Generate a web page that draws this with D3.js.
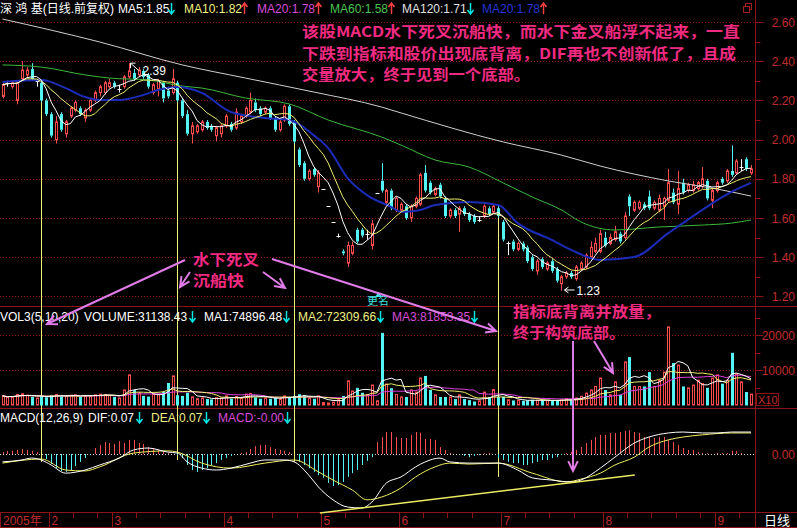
<!DOCTYPE html>
<html>
<head>
<meta charset="utf-8">
<script src="https://cdn.jsdelivr.net/npm/d3@7"></script>
<style>
body { margin: 0; background: #000; }
svg { display: block; }
text { font-family: "Liberation Sans", "Noto Sans CJK SC", sans-serif; }
</style>
</head>
<body>
<svg id="chart" width="797" height="528"></svg>
<script>
/* ---- data ---- */
// daily candles [open, high, low, close], mid Jan 2005 .. early Sep 2005
var ohlc = [
  [2.22,2.29,2.21,2.28],[2.29,2.30,2.27,2.29],[2.27,2.30,2.26,2.29],[2.20,2.30,2.18,2.29],[2.31,2.40,2.30,2.355],
  [2.33,2.37,2.32,2.355],[2.36,2.39,2.30,2.31],[2.30,2.31,2.27,2.30],[2.29,2.30,2.19,2.20],[2.20,2.21,2.12,2.13],
  [2.13,2.14,2.01,2.02],[2.00,2.12,1.98,2.09],[2.13,2.14,2.04,2.05],[2.03,2.10,2.01,2.09],[2.12,2.17,2.11,2.16],
  [2.15,2.20,2.14,2.19],[2.16,2.17,2.12,2.13],[2.11,2.16,2.09,2.15],[2.15,2.21,2.14,2.20],[2.20,2.25,2.19,2.24],
  [2.24,2.28,2.22,2.27],[2.24,2.30,2.23,2.29],[2.27,2.31,2.26,2.29],[2.29,2.30,2.26,2.27],[2.26,2.28,2.24,2.26],
  [2.27,2.33,2.26,2.32],[2.32,2.39,2.31,2.35],[2.34,2.36,2.30,2.31],[2.33,2.37,2.32,2.355],[2.35,2.36,2.31,2.32],
  [2.33,2.34,2.26,2.27],[2.24,2.29,2.23,2.28],[2.26,2.31,2.22,2.30],[2.29,2.30,2.19,2.21],[2.25,2.27,2.21,2.22],
  [2.24,2.36,2.23,2.31],[2.29,2.30,2.19,2.20],[2.20,2.21,2.11,2.12],[2.13,2.15,2.02,2.03],[2.03,2.09,1.98,2.07],
  [2.04,2.08,2.03,2.07],[2.05,2.10,2.04,2.09],[2.09,2.10,2.05,2.06],[2.07,2.08,2.04,2.05],[2.02,2.07,1.99,2.06],
  [2.03,2.08,2.01,2.07],[2.07,2.13,2.06,2.12],[2.08,2.09,2.04,2.05],[2.06,2.16,2.05,2.14],[2.09,2.13,2.08,2.12],
  [2.12,2.17,2.11,2.16],[2.14,2.24,2.13,2.20],[2.19,2.21,2.14,2.15],[2.16,2.17,2.12,2.13],[2.14,2.17,2.13,2.16],
  [2.16,2.17,2.10,2.11],[2.11,2.12,2.04,2.05],[2.05,2.10,2.04,2.09],[2.10,2.18,2.09,2.17],[2.17,2.18,2.07,2.08],
  [2.09,2.10,1.98,1.99],[1.95,1.96,1.86,1.87],[1.88,1.89,1.79,1.80],[1.80,1.85,1.79,1.84],[1.85,1.86,1.81,1.82],
  [1.76,1.845,1.73,1.83],[1.75,1.75,1.75,1.75],[1.66,1.66,1.66,1.66],[1.58,1.58,1.58,1.58],[1.51,1.52,1.50,1.51],
  [1.43,1.44,1.41,1.42],[1.37,1.48,1.35,1.46],[1.42,1.48,1.41,1.46],[1.54,1.55,1.47,1.48],[1.54,1.55,1.50,1.51],
  [1.52,1.54,1.49,1.52],[1.46,1.59,1.44,1.57],[1.73,1.73,1.73,1.73],[1.79,1.88,1.73,1.74],[1.68,1.75,1.67,1.74],
  [1.74,1.75,1.64,1.65],[1.64,1.71,1.63,1.70],[1.64,1.68,1.63,1.67],[1.66,1.67,1.59,1.60],[1.60,1.67,1.58,1.66],
  [1.66,1.71,1.65,1.70],[1.67,1.83,1.66,1.82],[1.83,1.87,1.73,1.74],[1.78,1.79,1.72,1.73],[1.72,1.76,1.71,1.75],
  [1.77,1.78,1.70,1.71],[1.70,1.71,1.60,1.61],[1.61,1.65,1.60,1.64],[1.64,1.65,1.60,1.61],[1.62,1.66,1.53,1.65],
  [1.65,1.66,1.61,1.62],[1.62,1.63,1.58,1.59],[1.61,1.62,1.57,1.58],[1.59,1.61,1.58,1.59],[1.61,1.67,1.60,1.66],
  [1.65,1.66,1.61,1.62],[1.63,1.67,1.62,1.66],[1.65,1.66,1.60,1.61],[1.58,1.59,1.48,1.49],[1.47,1.48,1.41,1.47],
  [1.48,1.49,1.43,1.44],[1.44,1.48,1.43,1.47],[1.47,1.48,1.43,1.44],[1.45,1.46,1.37,1.38],[1.40,1.41,1.33,1.34],
  [1.33,1.39,1.31,1.38],[1.39,1.40,1.34,1.35],[1.34,1.38,1.33,1.37],[1.38,1.39,1.32,1.33],[1.34,1.35,1.27,1.28],
  [1.265,1.31,1.23,1.30],[1.30,1.33,1.29,1.32],[1.32,1.33,1.29,1.30],[1.29,1.36,1.28,1.35],[1.34,1.38,1.33,1.37],
  [1.35,1.42,1.34,1.41],[1.40,1.48,1.39,1.45],[1.43,1.50,1.42,1.47],[1.43,1.54,1.42,1.52],[1.50,1.53,1.45,1.46],
  [1.47,1.52,1.46,1.50],[1.49,1.56,1.48,1.53],[1.52,1.53,1.47,1.48],[1.50,1.63,1.49,1.61],[1.71,1.72,1.61,1.66],
  [1.64,1.69,1.63,1.68],[1.65,1.69,1.64,1.68],[1.67,1.68,1.64,1.65],[1.71,1.74,1.64,1.65],[1.65,1.69,1.64,1.68],
  [1.64,1.72,1.63,1.70],[1.66,1.71,1.59,1.70],[1.69,1.85,1.68,1.78],[1.73,1.75,1.67,1.68],[1.67,1.84,1.62,1.75],
  [1.78,1.80,1.72,1.73],[1.74,1.78,1.73,1.77],[1.74,1.79,1.73,1.77],[1.75,1.79,1.74,1.78],[1.76,1.86,1.75,1.80],
  [1.79,1.80,1.69,1.70],[1.69,1.75,1.65,1.74],[1.74,1.79,1.73,1.78],[1.80,1.81,1.77,1.78],[1.79,1.85,1.78,1.84],
  [1.84,1.97,1.81,1.82],[1.83,1.90,1.82,1.89],[1.86,1.90,1.84,1.86],[1.90,1.91,1.84,1.85],[1.83,1.87,1.82,1.85]
];

// daily volume (axis units, x10)
var volume = [
  2600,2200,2400,3000,3200,2800,2300,2000, 2600,2200,
  2800,3000,2400,2600,2800,2900,2300,2700,2600,2900,3100,3000,2800,
  2300,2000,4300, 8600, 4300, 3500,2600,2400,3200,3000, 3800,6300,8300, 2800,2600,3500,
  2300,1800,2000,1700,1600,2100,2000,2600,1800,2400,2000, 3100,3300,
  2200,1800,2000,1800,2200,1700,2600,2200, 2600,3100,2800,
  2000,1800,2600,700,600,800,1500,2600, 6900,4000,4900,3500,3000,5700,
  1200,20600,6000,4800,3000,
  2300,2300,4300,3700,7700,8300,4300,2900,2300,2300,2300,1700,2900,1700,1400,1000,1200,3700,2300,4400,2300,2300,
  1500,1300,1400,1200,1300,1500,1400,1200,1300,1200,1400,1500,
  1800,1500,2000,2500,
  3400,4300,5300,7700,4300,2900,6600,2900,12300,13700,
  5300,5300,5300,9400,5300,7100,9400,22300,12000,11400,5300,4900,5700,7100,6100,4900,7700,8600,6100,7100,14900,8900,6600,3700,3110
];

// long moving averages, [candle index, price]
var ma20 = [[0,2.294],[8,2.304],[13,2.263],[17,2.217],[20,2.202],[24,2.202],[29,2.228],[32,2.253],[36,2.268],[41,2.238],
  [47,2.141],[54,2.110],[59,2.100],[64,2.023],[67,1.957],[71,1.804],[75,1.717],[80,1.656],[82,1.631],[86,1.641],
  [89,1.666],[96,1.682],[102,1.666],[106,1.574],[113,1.488],[117,1.437],[123,1.386],[130,1.401],[137,1.523],
  [143,1.625],[147,1.690],[150,1.733],[154,1.779]];
var ma60 = [[0,2.381],[8,2.370],[17,2.330],[22,2.314],[30,2.304],[37,2.273],[41,2.263],[50,2.212],[59,2.182],
  [67,2.100],[78,2.013],[82,1.972],[89,1.896],[96,1.860],[103,1.779],[109,1.707],[115,1.641],[119,1.580],
  [126,1.539],[135,1.554],[144,1.564],[150,1.574],[154,1.590]];
var ma120 = [[0,2.615],[20,2.498],[37,2.381],[50,2.314],[64,2.243],[78,2.166],[82,2.136],[103,1.988],[115,1.921],
  [123,1.865],[137,1.789],[147,1.748],[154,1.712]];

// MACD lines [candle index, value] and histogram per candle
var dif = [[0,-0.025],[4,-0.019],[6,-0.013],[8,-0.019],[10,-0.035],[13,-0.061],[17,-0.051],[20,-0.035],[24,-0.013],
  [27,0.013],[30,0.019],[34,0.006],[36,0.003],[38,-0.025],[41,-0.045],[44,-0.051],[47,-0.045],[51,-0.029],[54,-0.019],
  [58,-0.019],[60,-0.025],[63,-0.067],[65,-0.105],[68,-0.146],[71,-0.169],[74,-0.172],[76,-0.153],[79,-0.092],
  [82,-0.073],[85,-0.041],[87,-0.025],[90,-0.013],[92,-0.025],[96,-0.029],[102,-0.029],[106,-0.051],[109,-0.076],
  [113,-0.083],[117,-0.089],[119,-0.083],[123,-0.045],[126,-0.010],[130,0.035],[133,0.054],[137,0.067],[140,0.070],
  [144,0.067],[147,0.067],[150,0.070],[154,0.070]];
var dea = [[0,-0.029],[8,-0.016],[13,-0.051],[17,-0.054],[20,-0.041],[27,0.003],[34,0.010],[36,0.006],[41,-0.029],
  [47,-0.045],[54,-0.029],[60,-0.019],[65,-0.057],[68,-0.083],[72,-0.115],[75,-0.146],[78,-0.137],[82,-0.108],
  [85,-0.073],[89,-0.041],[92,-0.029],[96,-0.032],[102,-0.029],[109,-0.061],[116,-0.089],[119,-0.080],[123,-0.061],
  [126,-0.035],[130,-0.010],[133,0.022],[137,0.045],[140,0.054],[144,0.061],[150,0.067],[154,0.067]];
var macdBar = [
  .006,.010,.010,.013,.016,.013,.010,.006, 0,
  -.016,-.032,-.045,-.054,-.057,-.051,-.038,-.025,-.013, -.003,
  .019,.029,.038,.035,.032,.041,.035,.045,.045,.035,.032,.022,.019,.013,.010,.003, 0,-.003,
  -.013,-.035,-.051,-.057,-.051,-.045,-.035,-.029,-.019,-.013,-.006, 0,.003,
  .006,.016,.025,.029,.029,.022,.016,.013,.010,.006, 0,
  -.025,-.035,-.045,-.057,-.067,-.076,-.092,-.102,-.099,-.089,-.073,-.061,-.051,-.035,-.022,-.010,
  .038,.054,.070,.070,.054,.051,.051,.061,.070,.067,.048,.048,.045,.022,.013,.003,
  0,-.003,-.006,-.010,-.006,-.003,.003,.003,0,
  -.013,-.019,-.025,-.029,-.029,-.035,-.035,-.029,-.025,-.019,-.019,-.013,-.010,-.003,
  .003,.006,.013,.022,.035,.045,.054,.061,.061,.067,.067,.070,.073,.076,.070,.067,.054,.054,.051,.054,
  .054,.045,.038,.029,.019,.013,.013,.006,.003,.003,0,.003,.003,.003,.010,.010,.003,0,0
];

// marked crosses (yellow guides), and where they stop in the MACD panel
var crossIdx = [8, 36, 60, 102];
var crossEnd = [-0.025, -0.019, -0.025, -0.073];
var bottomTrend = [[65.3, -0.188], [130.1, -0.067]];

// axis labels
var priceTicks = [2.6, 2.4, 2.2, 2.0, 1.8, 1.6, 1.4, 1.2];
var volTicks = [10000, 20000];
var monthStart = [10, 23, 46, 66, 82, 103, 124, 147];
var monthLabel = ['2', '3', '4', '5', '6', '7', '8', '9'];

/* ---- setup ---- */
var W = 797, H = 528, AX = 755.5;
var upCol = '#ff4c4c', downCol = '#54f4f4', gridCol = '#8c1a1a', lineCol = '#8c1414', labCol = '#c02c2c';
var pink = '#f02a80', lilac = '#e07ce8';

var svg = d3.select('#chart');
svg.append('rect').attr('width', W).attr('height', H).attr('fill', '#000');

var x = d3.scaleLinear().domain([0, 154]).range([2.5, 751]);
var yP = d3.scaleLinear().domain([1.2, 2.6]).range([296.4, 22]);
var yV = d3.scaleLinear().domain([0, 20000]).range([405, 335]);
var yM = d3.scaleLinear().domain([-0.2, 0.09]).range([516.8, 425.74]);
var cx = function(i) { return Math.round(x(i)) + 0.5; };

function movingAvg(arr, n) {
  return arr.map(function(v, i) {
    return [i, d3.mean(arr.slice(Math.max(0, i - n + 1), i + 1))];
  });
}
var closes = ohlc.map(function(d) { return d[3]; });

/* ---- frame and grid ---- */
var frame = svg.append('g').attr('stroke', lineCol).attr('stroke-width', 1);
[306.5, 408.5, 512.5, 527.5].forEach(function(y) {
  frame.append('line').attr('x1', 0).attr('x2', W).attr('y1', y).attr('y2', y);
});
frame.append('line').attr('x1', AX).attr('x2', AX).attr('y1', 0).attr('y2', H);
frame.append('line').attr('x1', 0.5).attr('x2', 0.5).attr('y1', 512).attr('y2', 528);

var grid = svg.append('g').attr('stroke', gridCol).attr('stroke-dasharray', '1,2');
priceTicks.forEach(function(p) {
  var y = Math.round(yP(p)) + 0.5;
  grid.append('line').attr('x1', 0).attr('x2', AX - 1).attr('y1', y).attr('y2', y);
});
volTicks.forEach(function(v) {
  var y = Math.round(yV(v)) + 0.5;
  grid.append('line').attr('x1', 0).attr('x2', AX - 1).attr('y1', y).attr('y2', y);
});
svg.append('line').attr('x1', 0).attr('x2', AX - 1)
  .attr('y1', Math.round(yM(0)) + 0.5).attr('y2', Math.round(yM(0)) + 0.5)
  .attr('stroke', '#d0d0d0').attr('stroke-dasharray', '1,2');

/* ---- right axes ---- */
var ax = svg.append('g');
d3.range(12, 27).forEach(function(k) {
  var y = Math.round(yP(k / 10)) + 0.5;
  ax.append('line').attr('x1', AX).attr('x2', AX + (k % 2 == 0 ? 8 : 5)).attr('y1', y).attr('y2', y).attr('stroke', lineCol);
});
ax.selectAll('text.p').data(priceTicks).enter().append('text')
  .attr('x', 795).attr('y', function(d) { return yP(d) + 4.5; })
  .attr('text-anchor', 'end').attr('fill', labCol).style('font-size', '12px')
  .text(d3.format('.2f'));
[5000, 10000, 15000, 20000, 25000].forEach(function(v) {
  var y = Math.round(yV(v)) + 0.5;
  ax.append('line').attr('x1', AX).attr('x2', AX + (v % 10000 == 0 ? 8 : 5)).attr('y1', y).attr('y2', y).attr('stroke', lineCol);
});
ax.selectAll('text.v').data(volTicks).enter().append('text')
  .attr('x', 795).attr('y', function(d) { return yV(d) + 4.5; })
  .attr('text-anchor', 'end').attr('fill', labCol).style('font-size', '12px')
  .text(function(d) { return d; });
ax.append('rect').attr('x', 756.5).attr('y', 393.5).attr('width', 22).attr('height', 12)
  .attr('fill', 'none').attr('stroke', lineCol);
ax.append('text').attr('x', 758).attr('y', 404).attr('fill', labCol).style('font-size', '11px').text('X10');
ax.append('text').attr('x', 795).attr('y', yM(0) + 4.5).attr('text-anchor', 'end')
  .attr('fill', labCol).style('font-size', '12px').text('0.00');

// small window icon top right
ax.append('rect').attr('x', 745.5).attr('y', 3.5).attr('width', 6).attr('height', 6).attr('fill', 'none').attr('stroke', '#a02020');
ax.append('rect').attr('x', 743.5).attr('y', 6.5).attr('width', 6).attr('height', 6).attr('fill', '#000').attr('stroke', '#a02020');

/* ---- date strip ---- */
var dates = svg.append('g');
monthStart.forEach(function(s, k) {
  var mx = Math.round(x(s - 0.5)) + 0.5;
  dates.append('line').attr('x1', mx).attr('x2', mx).attr('y1', 512).attr('y2', 528).attr('stroke', lineCol);
  dates.append('text').attr('x', mx + 2).attr('y', 525).attr('fill', labCol).style('font-size', '12px').text(monthLabel[k]);
  var end = k < monthStart.length - 1 ? monthStart[k + 1] : 155;
  for (var w = s + 5; w < end - 1; w += 5) {
    var wx = Math.round(x(w - 0.5)) + 0.5;
    dates.append('line').attr('x1', wx).attr('x2', wx).attr('y1', 513).attr('y2', 518).attr('stroke', lineCol);
  }
});
dates.append('text').attr('x', 3).attr('y', 525).attr('fill', labCol).style('font-size', '12px').text('2005年');
dates.append('text').attr('x', 764).attr('y', 525).attr('fill', '#ffffff').style('font-size', '13px').text('日线');

/* ---- yellow guide lines at the marked crosses ---- */
crossIdx.forEach(function(i, k) {
  svg.append('line').attr('x1', cx(i)).attr('x2', cx(i))
    .attr('y1', yP(ohlc[i][1])).attr('y2', yM(crossEnd[k]))
    .attr('stroke', '#f2f27a').attr('stroke-width', 1);
});

/* ---- candles ---- */
var candles = svg.append('g');
ohlc.forEach(function(d, i) {
  var o = d[0], h = d[1], l = d[2], c = d[3], X = cx(i);
  if (c == o) {
    candles.append('line').attr('x1', X).attr('x2', X).attr('y1', yP(h)).attr('y2', yP(l)).attr('stroke', '#fff');
    candles.append('line').attr('x1', X - 2).attr('x2', X + 2).attr('y1', Math.round(yP(c)) + 0.5).attr('y2', Math.round(yP(c)) + 0.5).attr('stroke', '#fff');
    return;
  }
  var col = c > o ? upCol : downCol;
  var top = yP(Math.max(o, c)), bot = yP(Math.min(o, c));
  candles.append('line').attr('x1', X).attr('x2', X).attr('y1', yP(h)).attr('y2', top).attr('stroke', col);
  candles.append('line').attr('x1', X).attr('x2', X).attr('y1', bot).attr('y2', yP(l)).attr('stroke', col);
  if (c > o) {
    candles.append('rect').attr('x', X - 1).attr('y', top).attr('width', 2).attr('height', Math.max(1, bot - top))
      .attr('fill', '#000').attr('stroke', col);
  } else {
    candles.append('rect').attr('x', X - 1.5).attr('y', top).attr('width', 3).attr('height', Math.max(1, bot - top))
      .attr('fill', col);
  }
});

/* ---- price moving averages ---- */
var pline = d3.line().x(function(d) { return x(d[0]); }).y(function(d) { return yP(d[1]); });
var smooth = d3.line().x(function(d) { return x(d[0]); }).y(function(d) { return yP(d[1]); }).curve(d3.curveMonotoneX);
svg.append('path').attr('d', smooth(ma120)).attr('fill', 'none').attr('stroke', '#cfcfcf');
svg.append('path').attr('d', smooth(ma60)).attr('fill', 'none').attr('stroke', '#3cb83c');
svg.append('path').attr('d', smooth(ma20)).attr('fill', 'none').attr('stroke', '#1c2cb8').attr('stroke-width', 2);
svg.append('path').attr('d', pline(movingAvg(closes, 10))).attr('fill', 'none').attr('stroke', '#f0f070');
svg.append('path').attr('d', pline(movingAvg(closes, 5))).attr('fill', 'none').attr('stroke', '#ffffff');

/* ---- volume ---- */
var vols = svg.append('g');
volume.forEach(function(v, i) {
  var d = ohlc[i], X = cx(i), top = yV(v);
  if (d[3] >= d[0]) {
    vols.append('rect').attr('x', X - 1).attr('y', top).attr('width', 2).attr('height', Math.max(1, 405 - top))
      .attr('fill', '#000').attr('stroke', upCol);
  } else {
    vols.append('rect').attr('x', X - 1.5).attr('y', top).attr('width', 3).attr('height', Math.max(1, 405.5 - top))
      .attr('fill', downCol);
  }
});
var vline = d3.line().x(function(d) { return x(d[0]); }).y(function(d) { return yV(d[1]); });
svg.append('path').attr('d', vline(movingAvg(volume, 20))).attr('fill', 'none').attr('stroke', '#e040e0');
svg.append('path').attr('d', vline(movingAvg(volume, 10))).attr('fill', 'none').attr('stroke', '#f0f070');
svg.append('path').attr('d', vline(movingAvg(volume, 5))).attr('fill', 'none').attr('stroke', '#ffffff');

/* ---- MACD ---- */
var bars = svg.append('g');
macdBar.forEach(function(v, i) {
  if (v == 0) return;
  bars.append('line').attr('x1', cx(i)).attr('x2', cx(i)).attr('y1', yM(0)).attr('y2', yM(v))
    .attr('stroke', v > 0 ? upCol : downCol);
});
var mline = d3.line().x(function(d) { return x(d[0]); }).y(function(d) { return yM(d[1]); }).curve(d3.curveMonotoneX);
svg.append('path').attr('d', mline(dea)).attr('fill', 'none').attr('stroke', '#f0f060');
svg.append('path').attr('d', mline(dif)).attr('fill', 'none').attr('stroke', '#ffffff');
svg.append('path').attr('d', d3.line().x(function(d) { return x(d[0]); }).y(function(d) { return yM(d[1]); })(bottomTrend))
  .attr('fill', 'none').attr('stroke', '#eaea60').attr('stroke-width', 1.5);

/* ---- headers ---- */
// trend arrows drawn as small paths so they read like the terminal's tall arrows
function trendArrow(ax0, y, down, col) {
  var xm = ax0 + 3.5, t = y - 10, b = y + 1;
  var d = down ? 'M' + xm + ',' + t + 'V' + b + 'M' + (xm - 3) + ',' + (b - 4) + 'L' + xm + ',' + b + 'L' + (xm + 3) + ',' + (b - 4)
               : 'M' + xm + ',' + b + 'V' + t + 'M' + (xm - 3) + ',' + (t + 4) + 'L' + xm + ',' + t + 'L' + (xm + 3) + ',' + (t + 4);
  svg.append('path').attr('d', d).attr('stroke', col).attr('stroke-width', 1.5).attr('fill', 'none');
}
function header(y, parts) {
  parts.forEach(function(p) {
    if (p[1] == '↓' || p[1] == '↑') {
      trendArrow(p[0], y, p[1] == '↓', p[2]);
      return;
    }
    svg.append('text').attr('x', p[0]).attr('y', y).attr('fill', p[2]).style('font-size', '12px').text(p[1]);
  });
}
var dn = '#00e4e4', up = '#ff4040';
header(13, [[0, '深 鸿 基(日线.前复权)', '#fff'], [118, 'MA5:1.85', '#fff'], [168, '↓', dn],
  [184, 'MA10:1.82', '#f0f080'], [241, '↑', up], [257, 'MA20:1.78', '#d84cd8'], [315, '↑', up],
  [330, 'MA60:1.58', '#4cc44c'], [388, '↑', up], [402, 'MA120:1.71', '#e0e0e0'], [467, '↓', dn],
  [482, 'MA20:1.78', '#2436d8'], [540, '↑', up]]);
header(321, [[0, 'VOL3(5,10,20)', '#fff'], [84, 'VOLUME:31138.43', '#fff'], [189, '↓', dn],
  [204, 'MA1:74896.48', '#fff'], [283, '↓', dn], [298, 'MA2:72309.66', '#f0f080'], [377, '↓', dn],
  [392, 'MA3:81853.35', '#d84cd8'], [471, '↓', dn]]);
header(422, [[0, 'MACD(12,26,9)', '#fff'], [88, 'DIF:0.07', '#fff'], [136, '↓', dn],
  [151, 'DEA:0.07', '#f0f080'], [203, '↓', dn], [218, 'MACD:-0.00', '#d84cd8'], [284, '↓', dn]]);

/* ---- high / low marks ---- */
var hiX = cx(26), hiY = yP(2.39);
svg.append('path').attr('d', 'M' + (hiX + 10) + ',' + (hiY + 8) + 'L' + (hiX + 1) + ',' + hiY +
  'M' + (hiX + 1) + ',' + hiY + 'l5,0M' + (hiX + 1) + ',' + hiY + 'l0,5').attr('stroke', '#fff').attr('fill', 'none');
svg.append('text').attr('x', hiX + 13).attr('y', hiY + 12).attr('fill', '#fff').style('font-size', '12px').text('2.39');
var loX = cx(115) + 3, loY = 290;
svg.append('path').attr('d', 'M' + (loX + 10) + ',' + loY + 'H' + loX + 'M' + (loX + 4) + ',' + (loY - 3) + 'L' + loX + ',' + loY + 'L' + (loX + 4) + ',' + (loY + 3))
  .attr('stroke', '#fff').attr('fill', 'none');
svg.append('text').attr('x', loX + 12).attr('y', 294.5).attr('fill', '#fff').style('font-size', '12px').text('1.23');

// rename marker
svg.append('path').attr('d', 'M375,297L378.5,292L382,297Z').attr('fill', '#40e0e0');
svg.append('text').attr('x', 367).attr('y', 305).attr('fill', '#40e0e0').style('font-size', '11px').text('更名');

/* ---- annotations ---- */
var arrows = [[185, 260, 47, 324], [190, 272, 180, 287], [263, 272, 285, 288],
  [272, 259, 496, 331], [573, 341, 573, 471], [594, 341, 613, 373]];
arrows.forEach(function(a) {
  var ang = Math.atan2(a[3] - a[1], a[2] - a[0]), L = 11, sp = 0.45;
  var p1 = [a[2] - L * Math.cos(ang - sp), a[3] - L * Math.sin(ang - sp)];
  var p2 = [a[2] - L * Math.cos(ang + sp), a[3] - L * Math.sin(ang + sp)];
  svg.append('path')
    .attr('d', 'M' + a[0] + ',' + a[1] + 'L' + a[2] + ',' + a[3] + 'M' + p1 + 'L' + a[2] + ',' + a[3] + 'L' + p2)
    .attr('stroke', lilac).attr('stroke-width', 2).attr('fill', 'none');
});

var notes = [
  [302, 37, '该股MACD水下死叉沉船快，而水下金叉船浮不起来，一直', 438],
  [302, 59, '下跌到指标和股价出现底背离，DIF再也不创新低了，且成', 434],
  [302, 80, '交量放大，终于见到一个底部。', 228],
  [193, 265, '水下死叉', 66],
  [193, 286, '沉船快', 51],
  [513, 317, '指标底背离并放量，', 148],
  [513, 338, '终于构筑底部。', 112]
];
notes.forEach(function(n) {
  svg.append('text').attr('x', n[0]).attr('y', n[1]).attr('fill', pink)
    .attr('textLength', n[3]).attr('lengthAdjust', 'spacingAndGlyphs')
    .style('font-family', '"Noto Sans CJK SC", sans-serif').style('font-weight', 'bold').style('font-size', '15px')
    .text(n[2]);
});
</script>
</body>
</html>
